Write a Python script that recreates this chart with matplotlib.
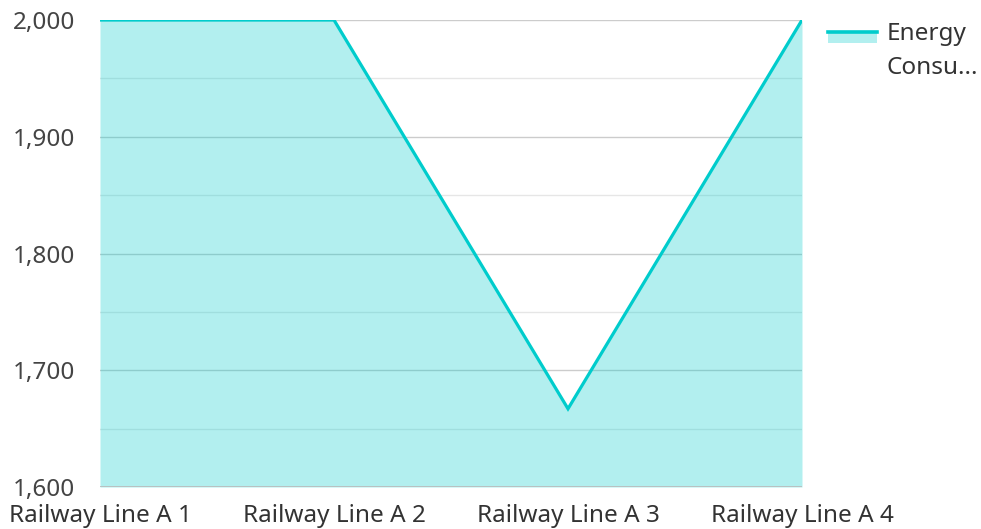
import matplotlib
matplotlib.use("Agg")
import matplotlib.pyplot as plt
from matplotlib.lines import Line2D
from matplotlib.patches import Rectangle
from matplotlib.ticker import FuncFormatter, MultipleLocator

plt.rcParams['font.family'] = ['Noto Sans', 'DejaVu Sans']

categories = ["Railway Line A 1", "Railway Line A 2", "Railway Line A 3", "Railway Line A 4"]
values = [2000, 2000, 1667, 2000]
series_name = ["Energy", "Consu..."]

line_color = "#00CCCC"
W, H = 981, 529
fig = plt.figure(figsize=(W / 100, H / 100), dpi=100)
ax = fig.add_axes([100 / W, 1 - 487 / H, (802 - 100) / W, (487 - 20) / H])

x = list(range(len(categories)))
ax.fill_between(x, values, 1600, color=line_color, alpha=0.3, linewidth=0, zorder=2)
ax.plot(x, values, color=line_color, linewidth=2.3, zorder=3, solid_joinstyle='miter')

ax.set_xlim(0, len(categories) - 1)
ax.set_ylim(1600, 2000)
ax.yaxis.set_major_locator(MultipleLocator(100))
ax.yaxis.set_minor_locator(MultipleLocator(50))
ax.yaxis.set_major_formatter(FuncFormatter(lambda v, p: f"{int(v):,}"))
ax.grid(True, which='major', axis='y', color='#cccccc', linewidth=1, zorder=1)
ax.grid(True, which='minor', axis='y', color='#e6e6e6', linewidth=1, zorder=1)
ax.set_axisbelow(True)
ax.set_xticks(x)
ax.set_xticklabels(categories)
for s in ax.spines.values():
    s.set_visible(False)
ax.axhline(1600, color='#bbbbbb', linewidth=1.2, zorder=4)
ax.tick_params(axis='both', which='both', length=0, labelsize=17.5)
ax.tick_params(axis='y', pad=18)
ax.tick_params(axis='x', pad=12)
for lab in ax.get_xticklabels() + ax.get_yticklabels():
    lab.set_color('#333333')
for lab in ax.get_yticklabels():
    lab.set_color('#444444')

# legend
fig.add_artist(Rectangle((828 / W, 1 - 43 / H), 49 / W, 11 / H, transform=fig.transFigure,
                         facecolor=line_color, alpha=0.3, linewidth=0))
fig.add_artist(Line2D([828 / W, 877 / W], [1 - 32 / H, 1 - 32 / H], transform=fig.transFigure,
                      color=line_color, linewidth=2.6))
fig.text(887 / W, 1 - 40 / H, series_name[0], fontsize=17.5, color='#333333',
         va='baseline', ha='left')
fig.text(887 / W, 1 - 74 / H, series_name[1], fontsize=17.5, color='#333333',
         va='baseline', ha='left')

fig.savefig("out.png", dpi=100)
